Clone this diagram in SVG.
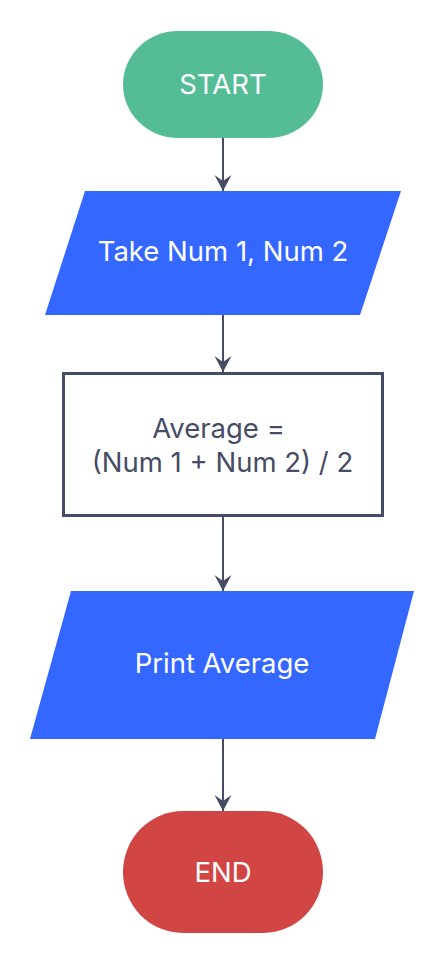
<svg xmlns="http://www.w3.org/2000/svg" width="444" height="964" viewBox="0 0 444 964">
<style>
.lbl{font-family:Inter,"Noto Sans","Liberation Sans",sans-serif;font-size:27.5px;text-anchor:middle}
.w{fill:#ffffff}
.d{fill:#474c66}
.conn{stroke:#474c66;stroke-width:2;fill:none}
</style>
<defs>
<marker id="ah" markerUnits="userSpaceOnUse" markerWidth="20" markerHeight="20" viewBox="0 0 20 20" refX="17" refY="10" orient="auto">
<path d="M1,1.5 L17,10 L1,18.5 L7,10 Z" fill="#474c66"/>
</marker>
</defs>
<rect width="444" height="964" fill="#ffffff"/>
<g id="connectors">
<line class="conn" x1="223" y1="138" x2="223" y2="191" marker-end="url(#ah)"/>
<line class="conn" x1="223" y1="315" x2="223" y2="372" marker-end="url(#ah)"/>
<line class="conn" x1="223" y1="517" x2="223" y2="591" marker-end="url(#ah)"/>
<line class="conn" x1="223" y1="739" x2="223" y2="811" marker-end="url(#ah)"/>
</g>
<g id="start">
<rect x="123" y="31" width="200" height="107" rx="55" ry="53.5" fill="#55bd96"/>
<text class="lbl w" x="223" y="94">START</text>
</g>
<g id="input">
<polygon points="85,191 401,191 360,315 45,315" fill="#3467ff"/>
<text class="lbl w" x="223" y="261">Take Num 1, Num 2</text>
</g>
<g id="process">
<rect x="63.5" y="373.5" width="319" height="142" fill="#ffffff" stroke="#474c66" stroke-width="3"/>
<text class="lbl d" x="218.5" y="438">Average =</text>
<text class="lbl d" x="222.5" y="472">(Num 1 + Num 2) / 2</text>
</g>
<g id="output">
<polygon points="71,591 414,591 375,739 30,739" fill="#3467ff"/>
<text class="lbl w" x="222" y="673">Print Average</text>
</g>
<g id="end">
<rect x="123" y="811" width="200" height="122" rx="60" ry="61" fill="#d14545"/>
<text class="lbl w" x="223" y="882">END</text>
</g>
</svg>
